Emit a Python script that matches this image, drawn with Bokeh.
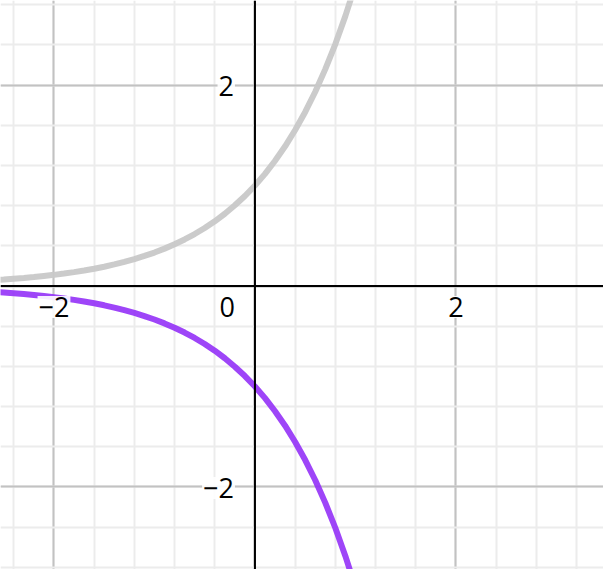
from bokeh.plotting import figure
from bokeh.models import Range1d, Grid, SingleIntervalTicker, Span, ColumnDataSource
from bokeh.core.properties import value
from bokeh.embed import file_html
from bokeh.resources import INLINE

xs = [-2.6, -2.5, -2.4, -2.3, -2.2, -2.1, -2.0, -1.9, -1.8, -1.7, -1.6, -1.5,
      -1.4, -1.3, -1.2, -1.1, -1.0, -0.9, -0.8, -0.7, -0.6, -0.5, -0.4, -0.3,
      -0.2, -0.1, 0.0, 0.1, 0.2, 0.3, 0.4, 0.5, 0.6, 0.7, 0.8, 0.9, 1.0, 1.1]
gray_y = [0.057, 0.064, 0.072, 0.080, 0.089, 0.100, 0.111, 0.124, 0.138, 0.154,
          0.172, 0.192, 0.215, 0.240, 0.268, 0.299, 0.333, 0.372, 0.415, 0.463,
          0.517, 0.577, 0.644, 0.719, 0.803, 0.896, 1.0, 1.116, 1.246, 1.390,
          1.552, 1.732, 1.933, 2.158, 2.408, 2.688, 3.0, 3.348]
purple_y = [-0.057, -0.064, -0.072, -0.080, -0.089, -0.100, -0.111, -0.124, -0.138, -0.154,
            -0.172, -0.192, -0.215, -0.240, -0.268, -0.299, -0.333, -0.372, -0.415, -0.463,
            -0.517, -0.577, -0.644, -0.719, -0.803, -0.896, -1.0, -1.116, -1.246, -1.390,
            -1.552, -1.732, -1.933, -2.158, -2.408, -2.688, -3.0, -3.348]

x_ticks = [-2, 2]
x_tick_labels = ["\u22122", "2"]
y_ticks = [-2, 2]
y_tick_labels = ["\u22122", "2"]

p = figure(width=603, height=569, output_backend="svg", toolbar_location=None,
           x_range=Range1d(-2.532, 3.468), y_range=Range1d(-2.821, 2.841),
           x_axis_location=None, y_axis_location=None, min_border=0)
p.outline_line_color = None
p.background_fill_color = "white"
p.grid.visible = False

for dim in (0, 1):
    p.add_layout(Grid(dimension=dim,
                      ticker=SingleIntervalTicker(interval=2, num_minor_ticks=5),
                      grid_line_color="#c2c2c2", grid_line_width=2,
                      minor_grid_line_color="#ececec", minor_grid_line_width=2))

p.add_layout(Span(location=0, dimension="height", line_color="black", line_width=2))
p.add_layout(Span(location=0, dimension="width", line_color="black", line_width=2))

src = ColumnDataSource(dict(x=xs, g=gray_y, pu=purple_y))
p.line("x", "g", source=src, line_color="#c8c8c8", line_width=6, line_alpha=0.95)
p.line("x", "pu", source=src, line_color="#9431f7", line_width=6, line_alpha=0.9)

font = value("Open Sans")
xl = ColumnDataSource(dict(x=x_ticks, y=[0] * len(x_ticks), t=x_tick_labels))
p.text("x", "y", text="t", source=xl, text_font=font, text_font_size="27px",
       text_align="center", text_baseline="top", y_offset=10, text_color="black",
       background_fill_color="white", background_fill_alpha=0.9, padding=1)
p.text(x=[0], y=[0], text=["0"], text_font=font, text_font_size="27px",
       text_align="right", text_baseline="top", x_offset=-19, y_offset=10,
       text_color="black", background_fill_color="white", background_fill_alpha=0.9, padding=1)
yl = ColumnDataSource(dict(x=[0] * len(y_ticks), y=y_ticks, t=y_tick_labels))
p.text("x", "y", text="t", source=yl, text_font=font, text_font_size="27px",
       text_align="right", text_baseline="middle", x_offset=-20, y_offset=1,
       text_color="black", background_fill_color="white", background_fill_alpha=0.9, padding=1)

open("out.html", "w").write(file_html(p, INLINE))
